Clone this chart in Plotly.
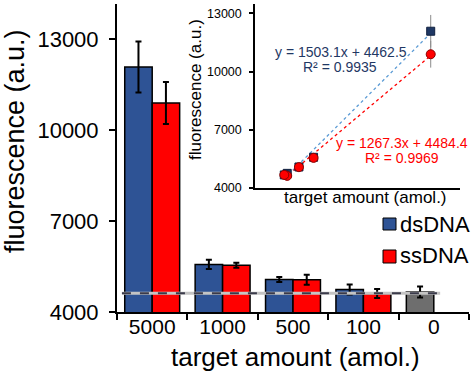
import plotly.graph_objects as go

# ---- data ----
categories = ["5000", "1000", "500", "100", "0"]
ds_values = [12080, 5570, 5070, 4740, 4660]
ds_errors = [840, 150, 80, 165, 180]
ss_values = [10890, 5540, 5060, 4610, None]
ss_errors = [690, 80, 165, 150, None]
baseline_value = 4620

inset_x = [5, 1, 0.5, 0.1, 0]
inset_ds = [12080, 5570, 5070, 4740, 4660]
inset_ds_err = [840, 150, 80, 165, 180]
inset_ss = [10890, 5540, 5060, 4610, 4660]
inset_ss_err = [690, 80, 165, 150, 180]
fit_slope = [1503.1, 1267.3]
fit_intercept = [4462.5, 4484.4]
fit_x = [0, 5]
y_ticks = [4000, 7000, 10000, 13000]

FONT = "Liberation Sans, Arial, sans-serif"
BLUE = "#2E5395"
NAVY = "#1F3864"
RED = "#FF0000"
GREY = "#6E6E6E"

W, H = 474, 375
L, R, T, B = 117, 5, 4, 63
PW, PH = W - L - R, H - T - B


def px(x):
    return (x - L) / PW


def py(y):
    return (H - B - y) / PH


fig = go.Figure()

ds_colors = [BLUE] * (len(categories) - 1) + [GREY]
fig.add_trace(go.Bar(
    x=categories, y=ds_values, name="dsDNA",
    marker=dict(color=ds_colors, line=dict(color="black", width=1.5)),
    error_y=dict(type="data", array=ds_errors, color="black", thickness=2, width=3),
    showlegend=False,
))
fig.add_trace(go.Bar(
    x=categories, y=ss_values, name="ssDNA",
    marker=dict(color=RED, line=dict(color="black", width=1.5)),
    error_y=dict(type="data", array=ss_errors, color="black", thickness=2, width=3),
    showlegend=False,
))

# inset trend lines
line_colors = ["#5B9BD5", RED]
for s, b, c in zip(fit_slope, fit_intercept, line_colors):
    fig.add_trace(go.Scatter(
        x=fit_x, y=[s * v + b for v in fit_x], mode="lines",
        line=dict(color=c, width=1.3, dash="dot"),
        xaxis="x2", yaxis="y2", showlegend=False, hoverinfo="skip",
    ))

fig.add_trace(go.Scatter(
    x=inset_x, y=inset_ds, mode="markers",
    marker=dict(symbol="square", size=8, color=NAVY, line=dict(color="#10203f", width=1)),
    error_y=dict(type="data", array=inset_ds_err, color="#8c8c8c", thickness=1, width=0),
    xaxis="x2", yaxis="y2", showlegend=False,
))
fig.add_trace(go.Scatter(
    x=inset_x, y=inset_ss, mode="markers",
    marker=dict(symbol="circle", size=9, color=RED, line=dict(color="#8b0000", width=1)),
    error_y=dict(type="data", array=inset_ss_err, color="#8c8c8c", thickness=1, width=0),
    xaxis="x2", yaxis="y2", showlegend=False,
))

y_top = 4000 + PH * 3000 / 91.0

shapes = [
    dict(type="line", xref="x", yref="y", x0=-0.43, x1=4.09,
         y0=baseline_value, y1=baseline_value,
         line=dict(color="#c4c4c4", width=3), layer="above"),
    dict(type="line", xref="x", yref="y", x0=-0.43, x1=4.09,
         y0=baseline_value, y1=baseline_value,
         line=dict(color="#3a3a4a", width=2, dash="dash"), layer="above"),
    # legend swatches
    dict(type="rect", xref="paper", yref="paper", x0=px(383), x1=px(396), y0=py(230), y1=py(218),
         fillcolor=BLUE, line=dict(color="black", width=1)),
    dict(type="rect", xref="paper", yref="paper", x0=px(383), x1=px(396), y0=py(263), y1=py(250),
         fillcolor=RED, line=dict(color="black", width=1)),
]


def ann(text, x, y, size, color="black", angle=0, xanchor="center"):
    return dict(text=text, x=px(x), y=py(y), xref="paper", yref="paper",
                xanchor=xanchor, yanchor="middle", textangle=angle, showarrow=False,
                font=dict(size=size, color=color, family=FONT))


annotations = [
    ann("fluorescence (a.u.)", 15, 141, 27, angle=-90),
    ann("target amount (amol.)", 295, 357, 26),
    ann("fluorescence (a.u.)", 195, 90, 17, angle=-90),
    ann("target amount (amol.)", 365, 197, 17),
    ann("y = 1503.1x + 4462.5", 341, 52, 14, NAVY),
    ann("R² = 0.9935", 340, 67, 14, NAVY),
    ann("y = 1267.3x + 4484.4", 402, 143, 14, RED),
    ann("R² = 0.9969", 402, 158, 14, RED),
    ann("dsDNA", 398, 224, 22, xanchor="left"),
    ann("ssDNA", 398, 256, 22, xanchor="left"),
]

fig.update_layout(
    width=W, height=H,
    margin=dict(l=L, r=R, t=T, b=B),
    paper_bgcolor="white", plot_bgcolor="rgba(0,0,0,0)",
    barmode="group", bargap=0.22, bargroupgap=0,
    font=dict(family=FONT, color="black"),
    xaxis=dict(type="category", categoryorder="array", categoryarray=categories,
               showline=True, linecolor="black", linewidth=2,
               ticks="outside", tickson="boundaries", ticklen=6, tickwidth=2, tickcolor="black",
               ticklabelstandoff=-5, automargin=False,
               tickfont=dict(size=21, family=FONT), showgrid=False, zeroline=False),
    yaxis=dict(range=[4000, y_top], tickvals=y_ticks, ticktext=[str(v) for v in y_ticks],
               showline=True, linecolor="black", linewidth=2, automargin=False,
               ticks="outside", ticklen=6, tickwidth=2, tickcolor="black",
               ticklabelstandoff=6,
               tickfont=dict(size=22, family=FONT), showgrid=False, zeroline=False),
    xaxis2=dict(domain=[px(255), px(460)], anchor="y2", range=[-1, 6],
                showline=True, linecolor="black", linewidth=1.5,
                showticklabels=False, ticks="", showgrid=False, zeroline=False),
    yaxis2=dict(domain=[py(187.7), 1.0], anchor="x2",
                range=[4000, 4000 + (187.7 - T) * 3000 / 58.1],
                tickvals=y_ticks, ticktext=[str(v) for v in y_ticks],
                showline=True, linecolor="black", linewidth=1.5,
                ticks="outside", ticklen=4, tickwidth=1.5, tickcolor="black",
                ticklabelstandoff=5,
                tickfont=dict(size=12.5, family=FONT), showgrid=False, zeroline=False),
    shapes=shapes,
    annotations=annotations,
    showlegend=False,
)

fig.write_html("out.html", config={"displayModeBar": False},
               post_script="document.body.style.margin='0';")
